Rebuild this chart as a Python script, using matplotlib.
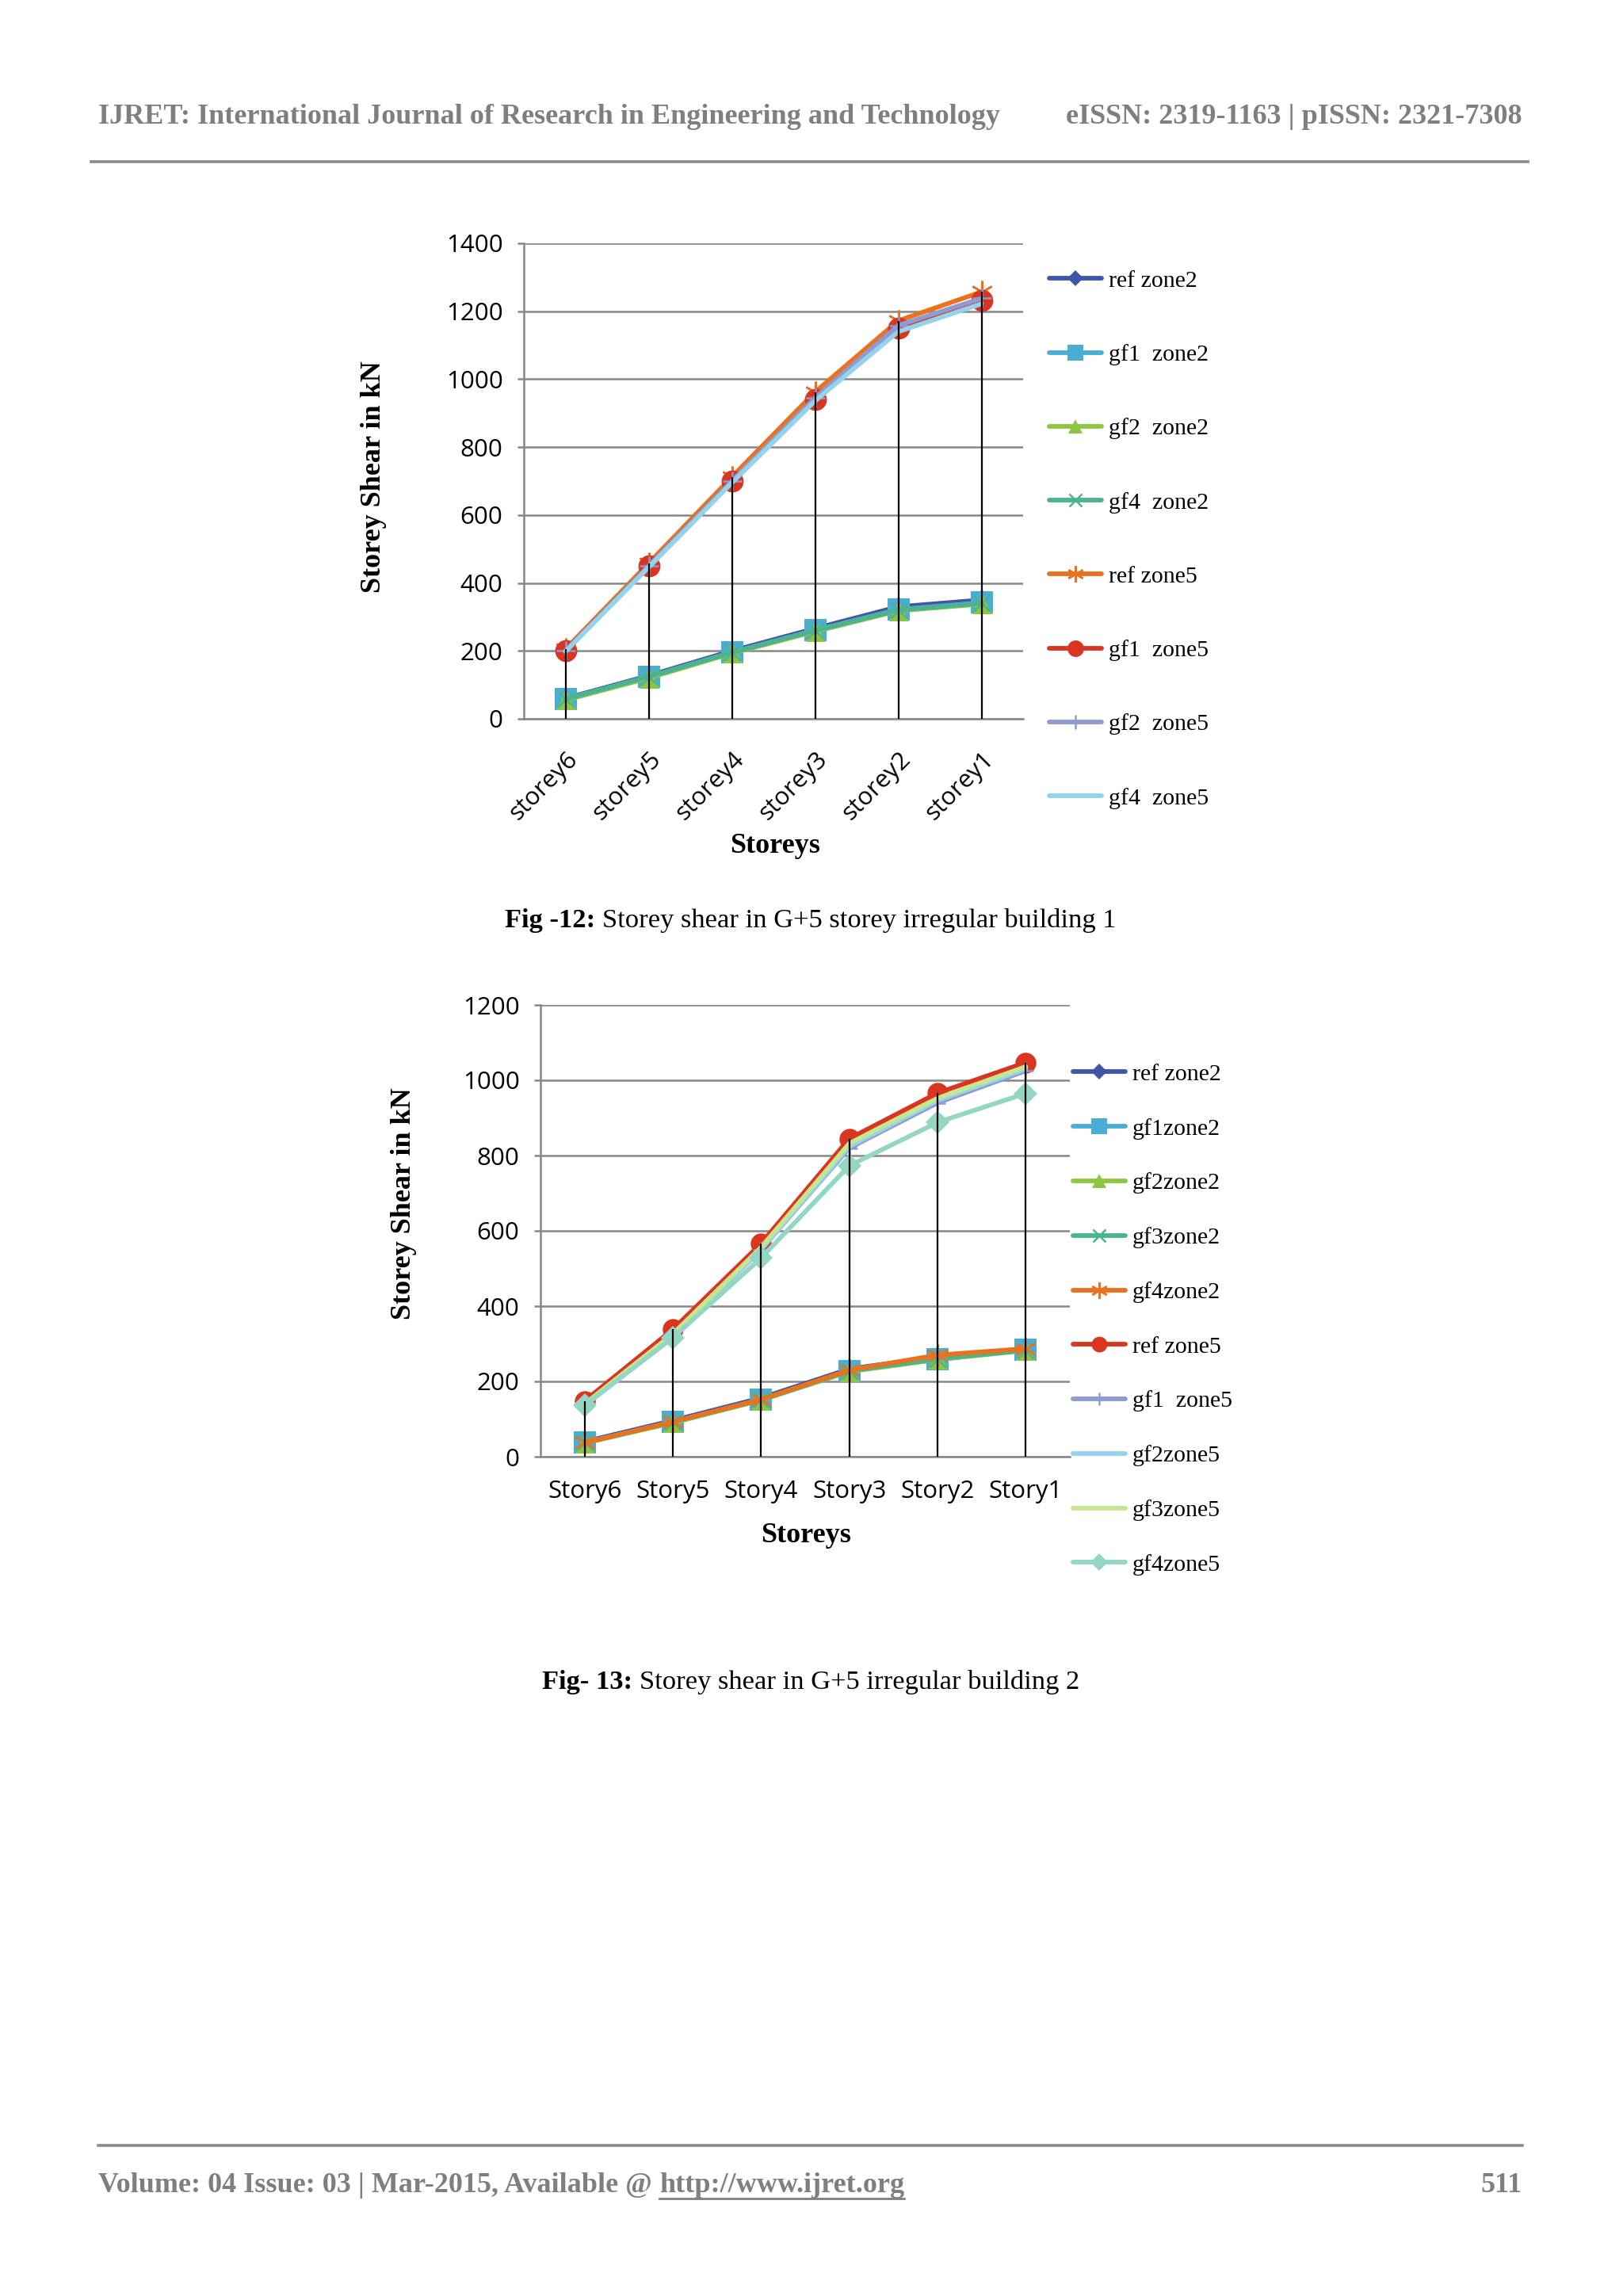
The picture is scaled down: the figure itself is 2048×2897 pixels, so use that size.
import matplotlib
matplotlib.use("Agg")
import matplotlib.pyplot as plt
from matplotlib.lines import Line2D
import numpy as np

W, H = 2048, 2897

# ---------------- data ----------------
storeys1 = ["storey6", "storey5", "storey4", "storey3", "storey2", "storey1"]
labels1 = ["ref zone2", "gf1  zone2", "gf2  zone2", "gf4  zone2",
           "ref zone5", "gf1  zone5", "gf2  zone5", "gf4  zone5"]
ref_zone2_1 = [60, 127, 200, 266, 330, 350]
gf1_zone2_1 = [58, 124, 196, 261, 322, 342]
gf2_zone2_1 = [55, 120, 193, 257, 318, 338]
gf4_zone2_1 = [58, 124, 195, 260, 320, 340]
ref_zone5_1 = [205, 458, 712, 962, 1172, 1257]
gf1_zone5_1 = [200, 450, 700, 940, 1150, 1232]
gf2_zone5_1 = [200, 450, 700, 945, 1158, 1238]
gf4_zone5_1 = [198, 446, 695, 936, 1140, 1222]

storeys2 = ["Story6", "Story5", "Story4", "Story3", "Story2", "Story1"]
labels2 = ["ref zone2", "gf1zone2", "gf2zone2", "gf3zone2", "gf4zone2",
           "ref zone5", "gf1  zone5", "gf2zone5", "gf3zone5", "gf4zone5"]
ref_zone2_2 = [40, 96, 156, 233, 266, 286]
gf1_zone2_2 = [38, 92, 152, 228, 258, 284]
gf2_zone2_2 = [36, 90, 150, 226, 258, 282]
gf3_zone2_2 = [37, 92, 151, 228, 260, 283]
gf4_zone2_2 = [37, 93, 152, 230, 270, 287]
ref_zone5_2 = [148, 338, 566, 845, 966, 1047]
gf1_zone5_2 = [138, 320, 550, 820, 940, 1025]
gf2_zone5_2 = [138, 322, 550, 824, 946, 1030]
gf3_zone5_2 = [140, 326, 556, 832, 952, 1036]
gf4_zone5_2 = [136, 316, 528, 773, 888, 965]

# ---------------- styles ----------------
C_DBLUE = "#3F55A6"
C_LBLUE = "#4AADD4"
C_GREEN = "#8DC641"
C_TEAL = "#4DB38E"
C_ORANGE = "#E8721E"
C_RED = "#D9351F"
C_LAV = "#8E9AD1"
C_SKY = "#93D3EC"
C_LGREEN = "#C4E690"
C_MINT = "#93D6C3"

styles1 = [
    (C_DBLUE, "D", 13), (C_LBLUE, "s", 20), (C_GREEN, "^", 18), (C_TEAL, "x", 15),
    (C_ORANGE, (6, 2, 0), 20), (C_RED, "o", 20), (C_LAV, "+", 17), (C_SKY, None, 0),
]
styles2 = [
    (C_DBLUE, "D", 13), (C_LBLUE, "s", 20), (C_GREEN, "^", 18), (C_TEAL, "x", 15),
    (C_ORANGE, (6, 2, 0), 20), (C_RED, "o", 19), (C_LAV, "+", 15), (C_SKY, None, 0),
    (C_LGREEN, None, 0), (C_MINT, "D", 15),
]

SERIF = ["Liberation Serif", "DejaVu Serif"]
SANS = ["Open Sans", "DejaVu Sans"]
GRID = "#878787"


def fx(x):
    return x / W


def fy(y):
    return 1 - y / H


fig = plt.figure(figsize=(W / 100, H / 100), dpi=100)


def draw_chart(rect, cats, series, labels, styles, ymax, rot, leg_xy, leg_spacing):
    l, t, r, b = rect
    ax = fig.add_axes([fx(l), fy(b), fx(r) - fx(l), fy(t) - fy(b)])
    x = np.arange(len(cats))
    for vals, lab, (c, m, ms) in zip(series, labels, styles):
        kw = dict(color=c, lw=4.2, label=lab, solid_capstyle="round", zorder=3)
        if m is not None:
            if m in ("x", "+") or isinstance(m, tuple):
                kw.update(marker=m, markersize=ms, markeredgewidth=1.8,
                          markeredgecolor=c)
            else:
                kw.update(marker=m, markersize=ms, markeredgewidth=0,
                          markerfacecolor=c)
        ax.plot(x, vals, **kw)
    tops = np.max(np.array(series), axis=0)
    ax.vlines(x, 0, tops, colors="black", lw=1.6, zorder=6)
    ax.set_xlim(-0.5, len(cats) - 0.5)
    ax.set_ylim(0, ymax)
    ax.set_yticks(np.arange(0, ymax + 1, 200))
    ax.grid(axis="y", color=GRID, lw=1.8, zorder=0)
    ax.set_axisbelow(True)
    for s in ("top", "right"):
        ax.spines[s].set_visible(False)
    ax.spines["left"].set_color(GRID)
    ax.spines["left"].set_linewidth(1.8)
    ax.spines["bottom"].set_color(GRID)
    ax.spines["bottom"].set_linewidth(1.8)
    ax.tick_params(axis="y", length=6, width=1.8, color=GRID, pad=13,
                   labelsize=22.5)
    ax.tick_params(axis="x", length=0, labelsize=22.5)
    ax.set_xticks(x)
    if rot:
        ax.set_xticklabels(cats, rotation=45, ha="right", va="top",
                           rotation_mode="anchor", fontfamily=SANS)
        ax.tick_params(axis="x", pad=26)
    else:
        ax.set_xticklabels(cats, fontfamily=SANS)
        ax.tick_params(axis="x", pad=21)
    for tl in ax.get_yticklabels():
        tl.set_fontfamily(SANS)
    ax.legend(loc="upper left", bbox_to_anchor=(fx(leg_xy[0]), fy(leg_xy[1])),
              bbox_transform=fig.transFigure, frameon=False,
              prop={"family": SERIF, "size": 21.5}, handlelength=2.2,
              handletextpad=0.3, labelspacing=leg_spacing, markerscale=0.75,
              borderpad=0, borderaxespad=0)
    return ax


series1 = [ref_zone2_1, gf1_zone2_1, gf2_zone2_1, gf4_zone2_1,
           ref_zone5_1, gf1_zone5_1, gf2_zone5_1, gf4_zone5_1]
series2 = [ref_zone2_2, gf1_zone2_2, gf2_zone2_2, gf3_zone2_2, gf4_zone2_2,
           ref_zone5_2, gf1_zone5_2, gf2_zone5_2, gf3_zone5_2, gf4_zone5_2]

draw_chart((661, 307, 1291, 907), storeys1, series1, labels1, styles1, 1400, True,
           (1324, 341), 2.22)
draw_chart((682, 1268, 1350, 1838), storeys2, series2, labels2, styles2, 1200, False,
           (1354, 1342), 1.4)

# axis titles
fig.text(fx(472), fy(602), "Storey Shear in kN", rotation=90, ha="center", va="center",
         family=SERIF, weight="bold", fontsize=26)
fig.text(fx(978), fy(1067), "Storeys", ha="center", va="center",
         family=SERIF, weight="bold", fontsize=26)
fig.text(fx(509), fy(1519), "Storey Shear in kN", rotation=90, ha="center", va="center",
         family=SERIF, weight="bold", fontsize=26)
fig.text(fx(1017), fy(1937), "Storeys", ha="center", va="center",
         family=SERIF, weight="bold", fontsize=26)


# captions
def caption(xc, y, bold, rest):
    t1 = fig.text(0, 0, bold, family=SERIF, weight="bold", fontsize=24.8)
    t2 = fig.text(0, 0, rest, family=SERIF, fontsize=24.8)
    fig.canvas.draw()
    r = fig.canvas.get_renderer()
    w1 = t1.get_window_extent(r).width
    w2 = t2.get_window_extent(r).width
    x0 = xc - (w1 + w2) / 2
    t1.set_position((fx(x0), fy(y)))
    t1.set_va("center")
    t2.set_position((fx(x0 + w1), fy(y)))
    t2.set_va("center")


caption(1023, 1162, "Fig -12: ", "Storey shear in G+5 storey irregular building 1")
caption(1023, 2122, "Fig- 13: ", "Storey shear in G+5 irregular building 2")

# header / footer
HG = "#7F7F7F"
FS_HF = 26
fig.text(fx(124), fy(148), "IJRET: International Journal of Research in Engineering and Technology",
         ha="left", va="center", family=SERIF, weight="bold", fontsize=FS_HF, color=HG)
fig.text(fx(1921), fy(148), "eISSN: 2319-1163 | pISSN: 2321-7308",
         ha="right", va="center", family=SERIF, weight="bold", fontsize=FS_HF, color=HG)
fig.add_artist(Line2D([fx(115), fx(1928)], [fy(204), fy(204)], color="#8A8A8A", lw=2.6))
fig.add_artist(Line2D([fx(124), fx(1921)], [fy(2707), fy(2707)], color="#8A8A8A", lw=2.6))

ft = fig.text(fx(124), fy(2757), "Volume: 04 Issue: 03 | Mar-2015, Available @ ",
              ha="left", va="center", family=SERIF, weight="bold", fontsize=FS_HF, color=HG)
fig.canvas.draw()
rend = fig.canvas.get_renderer()
wft = ft.get_window_extent(rend).width
ut = fig.text(fx(124 + wft), fy(2757), "http://www.ijret.org",
              ha="left", va="center", family=SERIF, weight="bold", fontsize=FS_HF, color=HG)
fig.canvas.draw()
ue = ut.get_window_extent(rend)
fig.add_artist(Line2D([fx(124 + wft), fx(124 + wft + ue.width)], [fy(2774), fy(2774)],
                      color=HG, lw=2))
fig.text(fx(1921), fy(2757), "511", ha="right", va="center", family=SERIF,
         weight="bold", fontsize=FS_HF, color=HG)

fig.savefig("out.png", dpi=100, facecolor="white")
